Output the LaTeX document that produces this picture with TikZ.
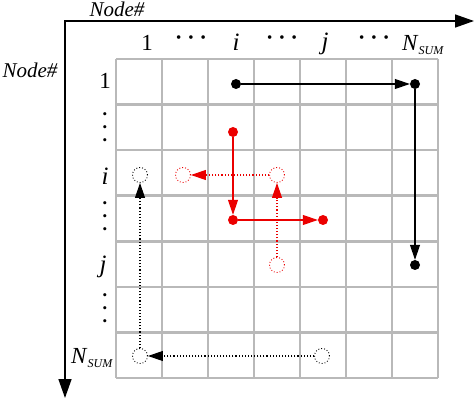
\documentclass[tikz,border=0pt]{standalone}
\usepackage{fontspec}
\setmainfont{Liberation Serif}
\usetikzlibrary{arrows.meta}
\newcommand{\Nsum}{\textit{N}\raisebox{-0.45ex}{\fontsize{12}{12}\selectfont\textit{SUM}}}
\newcommand{\hdotsrow}{\textbullet\hspace{7pt}\textbullet\hspace{7pt}\textbullet}
\newcommand{\vdotscol}{\textbullet\\\textbullet\\\textbullet}
\tikzset{
  lbl/.style={font=\fontsize{23}{23}\selectfont, inner sep=0pt},
  hdotslbl/.style={font=\fontsize{15}{15}\selectfont, inner sep=0pt},
  vdotslbl/.style={font=\fontsize{13}{13}\selectfont, inner sep=0pt, align=center},
  gridline/.style={draw={rgb,255:red,185;green,185;blue,185}, line width=2.6pt},
  axis/.style={line width=1.5pt, -{Triangle[length=19pt,width=13pt]}},
  soliddot/.style={circle, fill=#1, inner sep=0pt, minimum size=10pt},
  hollow/.style={circle, draw=#1, dotted, line width=0.9pt, inner sep=0pt, minimum size=15pt},
  flow/.style={draw=#1, line width=1.1pt, -{Triangle[length=15pt,width=10pt]}},
  dflow/.style={draw=#1, dotted, line width=1.1pt, -{Triangle[length=15pt,width=10pt]}},
}
\definecolor{redc}{RGB}{235,0,0}
\begin{document}
\begin{tikzpicture}[x=1pt,y=-1pt]
\useasboundingbox (0,0) rectangle (474,398);
% grid
\foreach \k in {0,...,7} {
  \draw[gridline] ({116+\k*46},59) -- ({116+\k*46},378);
  \draw[gridline] (116,{59+\k*45.57}) -- (438,{59+\k*45.57});
}
% axes
\coordinate (o) at (65,21);
\coordinate (xe) at (474,21);
\coordinate (ye) at (65,398);
\draw[axis] ([xshift=-0.75pt]o) -- (xe);
\draw[axis] (o) -- (ye);
\node[lbl, font=\fontsize{21}{21}\selectfont\itshape] (xl) at (117,9) {Node\#};
\node[lbl, font=\fontsize{21}{21}\selectfont\itshape] (yl) at (30,70) {Node\#};
% column labels
\node[lbl] (c1) at (147,43) {1};
\node[hdotslbl] (c2) at (191,39) {\hdotsrow};
\node[lbl, font=\fontsize{25}{25}\selectfont] (c3) at (236,42) {\textit{i}};
\node[hdotslbl] (c4) at (282,39) {\hdotsrow};
\node[lbl, font=\fontsize{25}{25}\selectfont] (c5) at (325,44) {\textit{j}};
\node[hdotslbl] (c6) at (374,39) {\hdotsrow};
\node[lbl] (c7) at (423,45) {\Nsum};
% row labels
\node[lbl] (r1) at (105,81) {1};
\node[vdotslbl] (r2) at (105,129) {\vdotscol};
\node[lbl, font=\fontsize{25}{25}\selectfont] (r3) at (105,176) {\textit{i}};
\node[vdotslbl] (r4) at (105,218) {\vdotscol};
\node[lbl, font=\fontsize{25}{25}\selectfont] (r5) at (103,267) {\textit{j}};
\node[vdotslbl] (r6) at (105,310) {\vdotscol};
\node[lbl] (r7) at (92,358) {\Nsum};
% black solid path
\node[soliddot=black] (a) at (236,84) {};
\node[soliddot=black] (b) at (415,84) {};
\node[soliddot=black] (c) at (415,265) {};
\draw[flow=black] (a) -- (b);
\draw[flow=black] (b) -- (c);
% red solid path
\node[soliddot=redc] (d) at (233,132) {};
\node[soliddot=redc] (e) at (233,220) {};
\node[soliddot=redc] (f) at (323,220) {};
\draw[flow=redc] (d) -- (e);
\draw[flow=redc] (e) -- (f);
% red dotted path
\node[hollow=redc] (g) at (277,265) {};
\node[hollow=redc] (h) at (277,175) {};
\node[hollow=redc] (k) at (183,175) {};
\draw[dflow=redc] (g) -- (h);
\draw[dflow=redc] (h) -- (k);
% black dotted path
\node[hollow=black] (m) at (322,356) {};
\node[hollow=black] (n) at (140,356) {};
\node[hollow=black] (p) at (140,175) {};
\draw[dflow=black] (m) -- (n);
\draw[dflow=black] (n) -- (p);
\end{tikzpicture}
\end{document}
